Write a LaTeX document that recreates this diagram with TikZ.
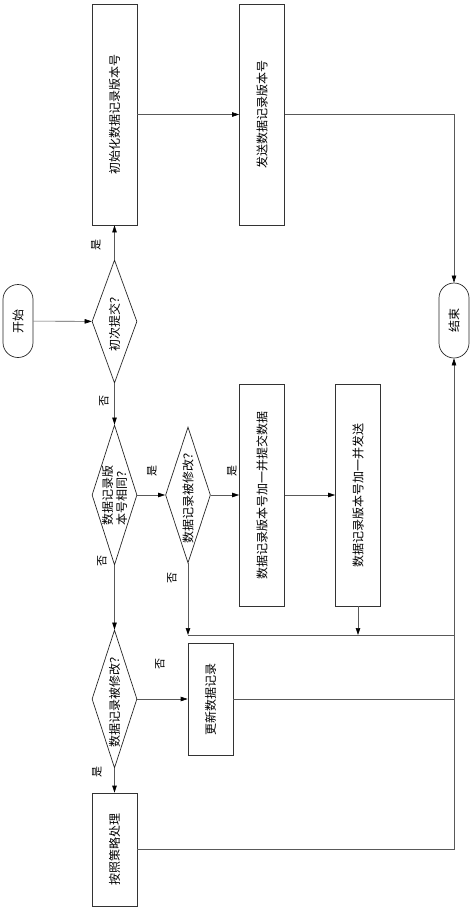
\documentclass[tikz,border=0pt]{standalone}
\usepackage{fontspec}
\newfontfamily\cjk{Noto Sans CJK SC}
\usetikzlibrary{shapes,arrows.meta}

\tikzset{
  box/.style={rectangle, draw=black!80, line width=0.6pt, rotate=90, minimum height=45pt, inner sep=0pt, font=\cjk\fontsize{12}{14}\selectfont},
  decide/.style={diamond, draw=black!85, line width=0.7pt, rotate=90, minimum height=45pt, aspect=3.1, inner sep=0pt, font=\cjk\fontsize{12}{14}\selectfont},
  term/.style={rectangle, rounded corners=15pt, draw=black!85, line width=0.7pt, rotate=90, minimum height=30pt, inner sep=0pt, font=\cjk\fontsize{12}{14}\selectfont},
  lbl/.style={rotate=90, inner sep=0pt, font=\cjk\fontsize{11}{13}\selectfont},
  flow/.style={draw=black!65, line width=0.6pt}
}

\begin{document}
\begin{tikzpicture}[x=1pt, y=-1pt, >={Triangle[length=7pt,width=4.5pt,color=black]}]
    \useasboundingbox (0,0) rectangle (474,911);
    \node (start) [term, minimum width=73pt] at (18, 321) {开始};
    \node (first) [decide, minimum width=123pt] at (114.5, 321.5) {初次提交？};
    \node (init) [box, minimum width=221pt] at (114.5, 114.5) {初始化数据记录版本号};
    \node (send) [box, minimum width=221pt] at (262, 114.5) {发送数据记录版本号};
    \node (finish) [term, minimum width=75pt] at (454, 320.5) {结束};
    \node (same) [decide, minimum width=140pt, align=center] at (114.5, 495) {数据记录版\\本号相同？};
    \node (mod) [decide, minimum width=136pt] at (188, 495) {数据记录被修改？};
    \node (commit) [box, minimum width=222pt] at (262, 495) {数据记录版本号加一并提交数据};
    \node (resend) [box, minimum width=222pt] at (358, 495) {数据记录版本号加一并发送};
    \node (mod2) [decide, minimum width=138pt] at (114.5, 699) {数据记录被修改？};
    \node (update) [box, minimum width=112pt] at (210.5, 699) {更新数据记录};
    \node (policy) [box, minimum width=113pt] at (114.5, 849.5) {按照策略处理};
    \coordinate (join) at (188, 635);

    \node (yes1) [lbl] at (96, 245) {是};
    \node (no1) [lbl] at (104, 401) {否};
    \node (yes2) [lbl] at (152, 471) {是};
    \node (yes3) [lbl] at (232, 471) {是};
    \node (no2) [lbl] at (102, 561) {否};
    \node (no3) [lbl] at (172, 578) {否};
    \node (no4) [lbl] at (160, 664) {否};
    \node (yes4) [lbl] at (97, 772) {是};

    \draw [flow, ->] (start) -- (first);
    \draw [flow, ->] (first) -- (init);
    \draw [flow, ->] (init) -- (send);
    \draw [flow, ->] (send) -| (finish);
    \draw [flow, ->] (first) -- (same);
    \draw [flow, ->] (same) -- (mod);
    \draw [flow, ->] (mod) -- (commit);
    \draw [flow, ->] (commit) -- (resend);
    \draw [flow, ->] (resend) -- (resend |- join);
    \draw [flow, ->] (mod) -- (join);
    \draw [flow] (join) -- (join -| finish);
    \draw [flow, ->] (same) -- (mod2);
    \draw [flow, ->] (mod2) -- (update);
    \draw [flow] (update) -- (update -| finish);
    \draw [flow, ->] (mod2) -- (policy);
    \draw [flow, ->] (policy) -| (finish);
\end{tikzpicture}
\end{document}
